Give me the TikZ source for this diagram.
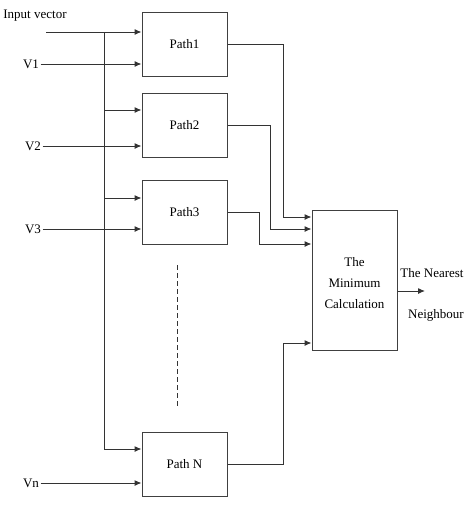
\documentclass[tikz,border=0pt]{standalone}
\usepackage{fontspec}
\setmainfont{Liberation Serif}
\usetikzlibrary{arrows.meta,positioning}

\begin{document}
\begin{tikzpicture}[
  x=1pt,y=-1pt,>={Latex[length=7pt,width=6pt]},
  every node/.style={font=\fontsize{13}{15}\selectfont,inner sep=1.5pt},
  blk/.style={draw=black!75,line width=1pt,minimum width=85pt,minimum height=64pt,
    inner sep=0pt},
  calcbox/.style={blk,minimum height=140pt,align=center,
    font=\fontsize{13}{21}\selectfont},
  wire/.style={draw=black!80,line width=1pt},
  dots/.style={wire,dashed,dash pattern=on 5pt off 3pt}
]
\useasboundingbox (0,0) rectangle (474,506);
% path blocks
\node[blk] (p1) at (184.5,44) {Path1};
\node[blk] (p2) at (184.5,125) {Path2};
\node[blk] (p3) at (184.5,212) {Path3};
\node[blk] (pn) at (184.5,464) {Path N};
\node[calcbox] (mc) at (354.5,280) {\strut The\\Minimum\\Calculation};
% input labels
\node (inv) at (35,16) {Input vector};
\node (v1) at (31,64) {V1};
\node (v2) at (33,146) {V2};
\node (v3) at (33,229) {V3};
\node (vn) at (31,483) {Vn};
\node (nn1) at (432,273) {The Nearest};
\node (nn2) at (436,315) {Neighbour};
% bus and junctions
\coordinate (in0) at (46,32);
\coordinate (bt) at (104,32);
\coordinate (b2) at (104,110);
\coordinate (b3) at (104,198);
\coordinate (bn) at (104,449);
\coordinate (j1) at (283,217);
\coordinate (j2) at (270,229);
\coordinate (j3) at (259,244);
\coordinate (jn) at (283,343);
\coordinate (out) at (425,291);
\coordinate (d1) at (177,265);
\coordinate (d2) at (177,407);
% input wires
\draw[wire,->] (in0) -- (in0 -| p1.west);
\draw[wire,->] (v1.east) -- (v1 -| p1.west);
\draw[wire,->] (v2.east) -- (v2 -| p2.west);
\draw[wire,->] (v3.east) -- (v3 -| p3.west);
\draw[wire,->] (vn.east) -- (vn -| pn.west);
\draw[wire] (bt) -- (bn);
\draw[wire,->] (b2) -- (b2 -| p2.west);
\draw[wire,->] (b3) -- (b3 -| p3.west);
\draw[wire,->] (bn) -- (bn -| pn.west);
% outputs to the minimum block
\draw[wire,->] (p1.east) -| (j1) -- (j1 -| mc.west);
\draw[wire,->] (p2.east) -| (j2) -- (j2 -| mc.west);
\draw[wire,->] (p3.east) -| (j3) -- (j3 -| mc.west);
\draw[wire,->] (pn.east) -| (jn) -- (jn -| mc.west);
\draw[wire,->] (out -| mc.east) -- (out);
\draw[dots] (d1) -- (d2);
\end{tikzpicture}
\end{document}
